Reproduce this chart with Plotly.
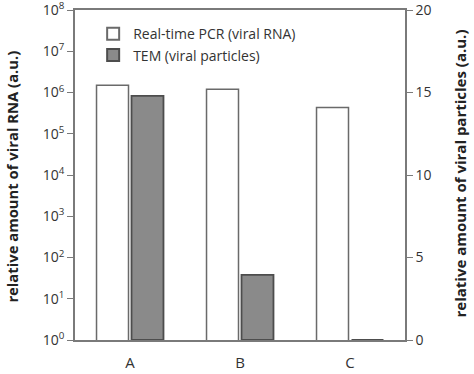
import plotly.graph_objects as go

categories = ["A", "B", "C"]
pcr_rna = [1.5e6, 1.2e6, 4.3e5]
tem_particles = [14.8, 3.95, 0]
left_tickvals = [1, 10, 100, 1e3, 1e4, 1e5, 1e6, 1e7, 1e8]
left_ticktext = ["10<sup>%d</sup>" % i for i in range(9)]
right_tickvals = [0, 5, 10, 15, 20]
left_title = "relative amount of viral RNA (a.u.)"
right_title = "relative amount of viral particles (a.u.)"

axis_col = "#7a7a7a"
font_fam = "Open Sans, Lato, sans-serif"

fig = go.Figure()
fig.add_trace(go.Bar(
    x=categories, y=pcr_rna, name="Real-time PCR (viral RNA)",
    marker=dict(color="white", line=dict(color="#6a6a6a", width=1.5)),
    offsetgroup="1", yaxis="y",
))
fig.add_trace(go.Bar(
    x=categories, y=tem_particles, name="TEM (viral particles)",
    marker=dict(color="#8a8a8a", line=dict(color="#4d4d4d", width=1.8)),
    offsetgroup="2", yaxis="y2",
))

fig.update_layout(
    width=474, height=374,
    margin=dict(l=75, r=69, t=10, b=34, autoexpand=False),
    paper_bgcolor="white", plot_bgcolor="white",
    barmode="group", bargap=0.364, bargroupgap=0.086,
    font=dict(family=font_fam, color="#333333", size=14),
    showlegend=True,
    legend=dict(x=0.055, y=0.975, xanchor="left", yanchor="top",
                bgcolor="rgba(0,0,0,0)", font=dict(size=14, color="#333333"),
                tracegroupgap=0, itemsizing="constant"),
    xaxis=dict(showline=True, linecolor=axis_col, linewidth=1.5, mirror=True,
               ticks="outside", ticklen=8, tickcolor="rgba(0,0,0,0)",
               showgrid=False, automargin=False,
               tickfont=dict(size=15, color="#333333")),
    yaxis=dict(type="log", range=[0, 8], tickvals=left_tickvals, ticktext=left_ticktext,
               showline=True, linecolor=axis_col, linewidth=1.5, automargin=False,
               ticks="outside", ticklen=6, tickcolor=axis_col, showgrid=False,
               ticklabeloverflow="allow",
               tickfont=dict(size=14, color="#333333")),
    yaxis2=dict(overlaying="y", side="right", range=[0, 20], tickvals=right_tickvals,
                showline=True, linecolor=axis_col, linewidth=1.5, automargin=False,
                ticks="outside", ticklen=6, tickcolor=axis_col, showgrid=False,
                ticklabeloverflow="allow",
                tickfont=dict(size=14, color="#333333")),
    annotations=[
        dict(text="<b>%s</b>" % left_title, xref="paper", yref="paper",
             x=-0.19, y=0.496, xanchor="center", yanchor="middle", textangle=-90,
             showarrow=False, font=dict(size=14.8, color="#222222")),
        dict(text="<b>%s</b>" % right_title, xref="paper", yref="paper",
             x=1.167, y=0.505, xanchor="center", yanchor="middle", textangle=-90,
             showarrow=False, font=dict(size=15, color="#222222")),
    ],
)

fig.write_html("out.html", config={"displayModeBar": False},
               post_script="document.body.style.margin='0';")
